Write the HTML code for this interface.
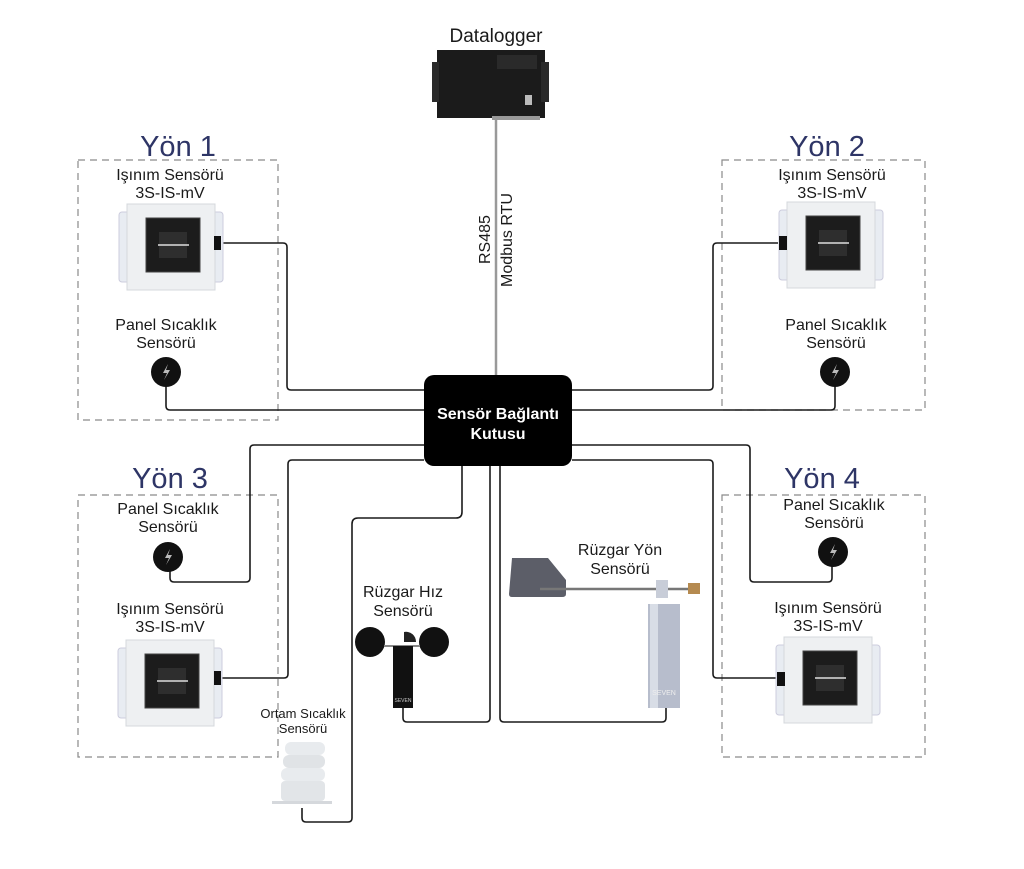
<!DOCTYPE html>
<html><head><meta charset="utf-8"><style>
html,body{margin:0;padding:0;background:#fff;}
svg{display:block}
text{font-family:"Liberation Sans",sans-serif;fill:#1a1a1a}
.t{font-size:16px;text-anchor:middle}
.y{font-size:29px;fill:#2e3566;text-anchor:middle}
.w{fill:none;stroke:#1a1a1a;stroke-width:1.6;stroke-linejoin:round}
.d{fill:none;stroke:#8a8a8a;stroke-width:1.2;stroke-dasharray:7 5}
</style></head><body>
<svg width="1024" height="869" viewBox="0 0 1024 869" xmlns="http://www.w3.org/2000/svg">
<defs>
<g id="irr">
 <rect x="-8" y="8" width="12" height="70" rx="3" fill="#e8ecf2" stroke="#ccd"/>
 <rect x="84" y="8" width="12" height="70" rx="3" fill="#e8ecf2" stroke="#ccd"/>
 <rect x="0" y="0" width="88" height="86" fill="#eef0f2" stroke="#d5d8dc"/>
 <rect x="19" y="14" width="54" height="54" fill="#1c1c1c" stroke="#444"/>
 <rect x="32" y="28" width="28" height="26" fill="#2e2e2e"/>
 <line x1="31" y1="41" x2="62" y2="41" stroke="#ddd" stroke-width="1.5"/>
</g>
<g id="pt">
 <circle cx="0" cy="0" r="15" fill="#111"/>
 <path d="M2,-8 L-3,1 L1,1 L-2,8 L4,-2 L0,-2 Z" fill="#bbb"/>
</g>
</defs>

<rect class="d" x="78" y="160" width="200" height="260"/>
<rect class="d" x="722" y="160" width="203" height="250"/>
<rect class="d" x="78" y="495" width="200" height="262"/>
<rect class="d" x="722" y="495" width="203" height="262"/>

<text class="y" x="178" y="156">Yön 1</text>
<text class="y" x="827" y="156">Yön 2</text>
<text class="y" x="170" y="488">Yön 3</text>
<text class="y" x="822" y="488">Yön 4</text>

<text x="496" y="42" style="font-size:19px;text-anchor:middle">Datalogger</text>
<rect x="437" y="50" width="108" height="68" fill="#1b1b1b"/>
<rect x="541" y="62" width="8" height="40" fill="#2a2a2a"/>
<rect x="432" y="62" width="7" height="40" fill="#2a2a2a"/>
<rect x="497" y="55" width="40" height="14" fill="#2a2a2a"/>
<rect x="525" y="95" width="7" height="10" fill="#bbb"/>
<rect x="492" y="116" width="48" height="4" fill="#999"/>
<line x1="496" y1="120" x2="496" y2="376" stroke="#999" stroke-width="2.5"/>
<text transform="translate(490,264) rotate(-90)" style="font-size:16px">RS485</text>
<text transform="translate(512,287) rotate(-90)" style="font-size:16px">Modbus RTU</text>

<path class="w" d="M220,243 H283 Q287,243 287,247 V386 Q287,390 291,390 H424"/>
<path class="w" d="M166,380 V406 Q166,410 170,410 H424"/>
<path class="w" d="M778,243 H717 Q713,243 713,247 V386 Q713,390 709,390 H572"/>
<path class="w" d="M835,380 V406 Q835,410 831,410 H572"/>
<path class="w" d="M170,566 V578 Q170,582 174,582 H246 Q250,582 250,578 V449 Q250,445 254,445 H424"/>
<path class="w" d="M222,678 H284 Q288,678 288,674 V464 Q288,460 292,460 H424"/>
<path class="w" d="M832,566 V578 Q832,582 828,582 H754 Q750,582 750,578 V449 Q750,445 746,445 H572"/>
<path class="w" d="M778,678 H717 Q713,678 713,674 V464 Q713,460 709,460 H572"/>
<path class="w" d="M403,705 V718 Q403,722 407,722 H486 Q490,722 490,718 V466"/>
<path class="w" d="M666,708 V718 Q666,722 662,722 H504 Q500,722 500,718 V466"/>
<path class="w" d="M302,808 V818 Q302,822 306,822 H348 Q352,822 352,818 V524 Q352,518 358,518 H456 Q462,518 462,512 V466"/>

<rect x="424" y="375" width="148" height="91" rx="10" fill="#000"/>
<text x="498" y="419" style="font-size:16px;font-weight:bold;fill:#fff;text-anchor:middle">Sensör Bağlantı</text>
<text x="498" y="439" style="font-size:16px;font-weight:bold;fill:#fff;text-anchor:middle">Kutusu</text>

<text class="t" x="170" y="180">Işınım Sensörü</text>
<text class="t" x="170" y="198">3S-IS-mV</text>
<use href="#irr" x="127" y="204"/>
<rect x="214" y="236" width="7" height="14" fill="#111"/>
<text class="t" x="166" y="330">Panel Sıcaklık</text>
<text class="t" x="166" y="348">Sensörü</text>
<use href="#pt" x="166" y="372"/>

<text class="t" x="832" y="180">Işınım Sensörü</text>
<text class="t" x="832" y="198">3S-IS-mV</text>
<use href="#irr" x="787" y="202"/>
<rect x="779" y="236" width="8" height="14" fill="#111"/>
<text class="t" x="836" y="330">Panel Sıcaklık</text>
<text class="t" x="836" y="348">Sensörü</text>
<use href="#pt" x="835" y="372"/>

<text class="t" x="168" y="514">Panel Sıcaklık</text>
<text class="t" x="168" y="532">Sensörü</text>
<use href="#pt" x="168" y="557"/>
<text class="t" x="170" y="614">Işınım Sensörü</text>
<text class="t" x="170" y="632">3S-IS-mV</text>
<use href="#irr" x="126" y="640"/>
<rect x="214" y="671" width="7" height="14" fill="#111"/>

<text class="t" x="834" y="510">Panel Sıcaklık</text>
<text class="t" x="834" y="528">Sensörü</text>
<use href="#pt" x="833" y="552"/>
<text class="t" x="828" y="613">Işınım Sensörü</text>
<text class="t" x="828" y="631">3S-IS-mV</text>
<use href="#irr" x="784" y="637"/>
<rect x="777" y="672" width="8" height="14" fill="#111"/>

<text class="t" x="403" y="597">Rüzgar Hız</text>
<text class="t" x="403" y="616">Sensörü</text>
<circle cx="370" cy="642" r="15" fill="#111"/>
<circle cx="434" cy="642" r="15" fill="#111"/>
<path d="M404,632 A10,10 0 0 1 416,642 L404,642 Z" fill="#222"/>
<line x1="384" y1="646" x2="420" y2="646" stroke="#888" stroke-width="2"/>
<rect x="393" y="646" width="20" height="62" fill="#111"/>
<text x="403" y="702" style="font-size:5px;fill:#ccc;text-anchor:middle">SEVEN</text>

<text class="t" x="620" y="555">Rüzgar Yön</text>
<text class="t" x="620" y="574">Sensörü</text>
<path d="M512,558 H548 L566,580 V594 Q566,597 562,597 H512 Q509,597 509,594 Z" fill="#5c5e68"/>
<line x1="540" y1="589" x2="690" y2="589" stroke="#777" stroke-width="2.5"/>
<rect x="656" y="580" width="12" height="18" fill="#c8cdd8"/>
<rect x="688" y="583" width="12" height="11" fill="#b58a50"/>
<rect x="648" y="604" width="32" height="104" fill="#b7bdcc"/>
<rect x="650" y="604" width="8" height="104" fill="#d8dde6"/>
<text x="664" y="695" style="font-size:7px;fill:#eee;text-anchor:middle">SEVEN</text>

<text x="303" y="718" style="font-size:13px;text-anchor:middle">Ortam Sıcaklık</text>
<text x="303" y="733" style="font-size:13px;text-anchor:middle">Sensörü</text>
<rect x="285" y="742" width="40" height="13" rx="6" fill="#e8ebee"/>
<rect x="283" y="755" width="42" height="13" rx="6" fill="#e0e3e6"/>
<rect x="281" y="768" width="44" height="13" rx="6" fill="#e8ebee"/>
<rect x="281" y="781" width="44" height="20" rx="4" fill="#e2e5e8"/>
<rect x="272" y="801" width="60" height="3" fill="#d5d8dc"/>
</svg>
</body></html>
